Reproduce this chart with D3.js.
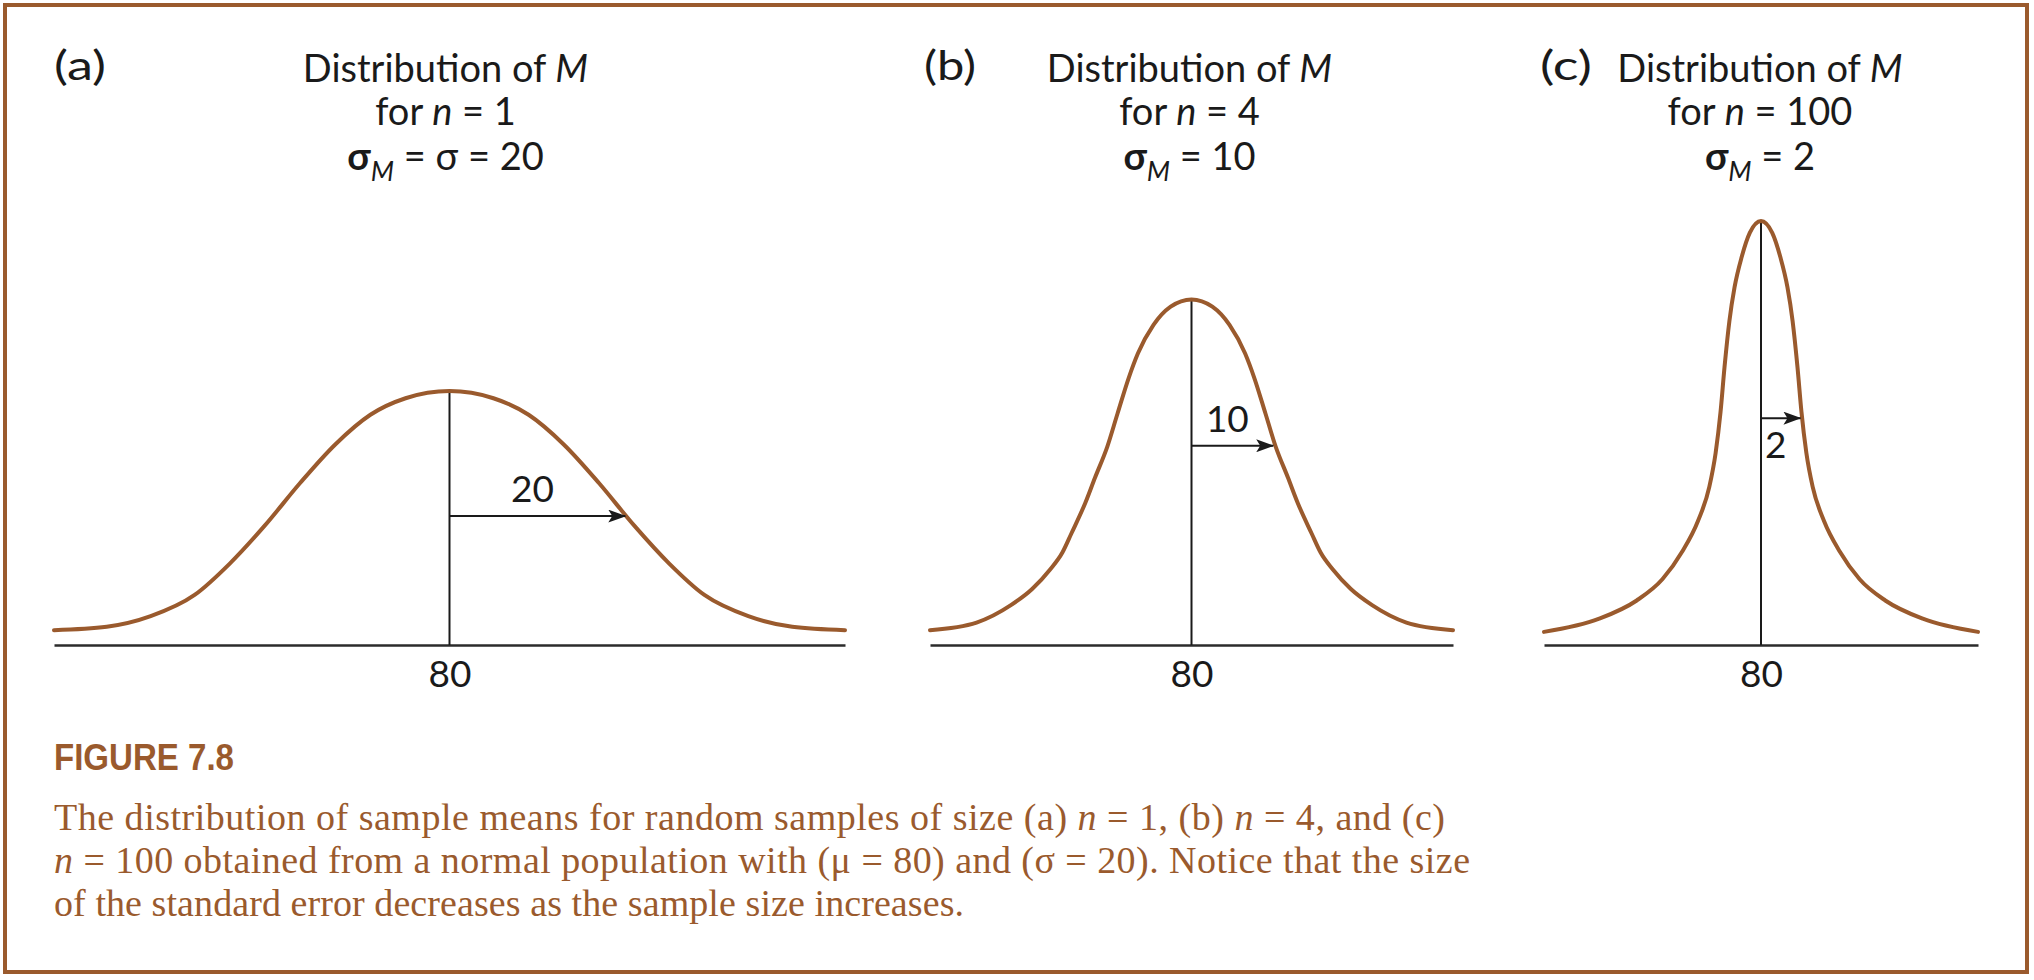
<!DOCTYPE html>
<html lang="en">
<head>
  <meta charset="UTF-8">
  <title>Figure 7.8 - Distribution of sample means</title>
  <script src="https://d3js.org/d3.v7.min.js"></script>
  <style>
    body { margin: 0; background: #fff; overflow: hidden; }
    svg { display: block; }
    .hdr { font-family: Lato, "Noto Sans", sans-serif; fill: #1a1a1a; }
    .num { font-family: Lato, "Noto Sans", sans-serif; fill: #1a1a1a; }
    .cap { font-family: "Liberation Serif", "Times New Roman", serif; fill: #9a5a2d; }
  </style>
</head>
<body>
  <svg id="container"></svg>

  <script>
    // Canvas
    const width = 2034;
    const height = 980;

    // Panel data
    const panelIds = ["(a)", "(b)", "(c)"];
    const sampleSizes = [1, 4, 100];
    const stdErrors = [20, 10, 2];
    const mu = 80;
    const sigmaLine = ["\u03c3 = 20", "", ""]; // extra part of the third title line

    // x domain of each panel (score units)
    const xDomains = [[35, 125], [48, 112], [69, 91]];

    // Curve points (score, relative height)
    const curveAx = [35, 41, 46, 51, 55, 59, 63, 67, 71, 75, 80, 85, 89, 93, 97, 101, 105, 109, 114, 119, 125];
    const curveAh = [3.5, 4.3, 6.8, 11.8, 19.2, 28.2, 38.2, 47.3, 54.3, 58.2, 59.9, 58.2, 54.3, 47.3, 38.2, 28.2, 19.2, 11.8, 6.8, 4.3, 3.5];

    const curveBx = [48, 53.7, 57.9, 60.5, 62.7, 64.2, 65.3, 67, 68.2, 69.7, 70.95, 72.3, 73.45, 75.35, 77.45, 80,
                     82.55, 84.65, 86.55, 87.7, 89.05, 90.3, 91.8, 93, 94.7, 95.8, 97.3, 99.5, 102.1, 106.3, 112];
    const curveBh = [3.5, 5.3, 9.4, 13.2, 17.8, 21.8, 26.3, 33.5, 39.5, 46.8, 54.6, 62.9, 68.8, 75.5, 79.8, 81.5,
                     79.8, 75.5, 68.8, 62.9, 54.6, 46.8, 39.5, 33.5, 26.3, 21.8, 17.8, 13.2, 9.4, 5.3, 3.5];

    const curveCx = [69, 71.8, 73.7, 75, 76, 76.8, 77.38, 77.7, 77.95, 78.15, 78.4, 78.66, 79.02, 79.43, 80,
                     80.57, 80.98, 81.34, 81.6, 81.85, 82.05, 82.3, 82.62, 83.2, 84, 85, 86.3, 88.2, 91];
    const curveCh = [3.1, 6.2, 10.5, 15.5, 22, 29.2, 37.3, 45.3, 55, 65.5, 76.5, 84.4, 91.5, 97.2, 100,
                     97.2, 91.5, 84.4, 76.5, 65.5, 55, 45.3, 37.3, 29.2, 22, 15.5, 10.5, 6.2, 3.1];

    // Height of the standard-error arrow in each panel
    const arrowHeights = [30.4, 47, 53.5];
    const labelSide = ["above", "above", "below"];

    // Caption
    const figureLabel = "FIGURE 7.8";

    // Layout
    const panelRanges = [[54, 845], [930, 1453], [1544, 1978]];
    const idX = [54, 924, 1540];
    const titleShift = [-4, -2, -1];
    const brown = "#9a5a2d";

    const svg = d3.select("#container")
      .attr("width", width)
      .attr("height", height);

    // Arrowhead
    svg.append("defs").append("marker")
      .attr("id", "head")
      .attr("viewBox", "0 0 18 13")
      .attr("refX", 17)
      .attr("refY", 6.5)
      .attr("markerWidth", 18)
      .attr("markerHeight", 13)
      .attr("markerUnits", "userSpaceOnUse")
      .attr("orient", "auto")
      .append("path")
      .attr("d", "M0,0 L18,6.5 L0,13 L4,6.5 Z")
      .attr("fill", "#1a1a1a");

    // Frame
    svg.append("rect")
      .attr("x", 5).attr("y", 5)
      .attr("width", 2022).attr("height", 967)
      .attr("fill", "none")
      .attr("stroke", brown)
      .attr("stroke-width", 4);

    const y = d3.scaleLinear().domain([0, 100]).range([645, 221]);

    const curves = [
      d3.zip(curveAx, curveAh),
      d3.zip(curveBx, curveBh),
      d3.zip(curveCx, curveCh)
    ];

    panelIds.forEach((id, i) => {
      const x = d3.scaleLinear().domain(xDomains[i]).range(panelRanges[i]);
      const g = svg.append("g");
      const cx = x(mu);
      const pts = curves[i];
      const peak = d3.max(pts, d => d[1]);

      // baseline axis with a single tick at the mean
      const axis = d3.axisBottom(x).tickValues([mu]).tickSize(0).tickPadding(16);
      const ax = g.append("g")
        .attr("transform", `translate(0,${y(0)})`)
        .call(axis);
      ax.select(".domain").attr("stroke", "#2b2b2b").attr("stroke-width", 2.5);
      ax.selectAll("text")
        .attr("class", "num")
        .attr("font-size", 37)
        .attr("fill", "#1a1a1a");

      // center line
      g.append("line")
        .attr("x1", cx).attr("x2", cx)
        .attr("y1", y(peak)).attr("y2", y(0))
        .attr("stroke", "#1a1a1a")
        .attr("stroke-width", 2);

      // distribution curve
      g.append("path")
        .datum(pts)
        .attr("fill", "none")
        .attr("stroke", brown)
        .attr("stroke-width", 4)
        .attr("stroke-linecap", "round")
        .attr("d", d3.line()
          .x(d => x(d[0]))
          .y(d => y(d[1]))
          .curve(d3.curveMonotoneX));

      // standard error arrow
      const ay = y(arrowHeights[i]);
      g.append("line")
        .attr("x1", cx).attr("x2", x(mu + stdErrors[i]))
        .attr("y1", ay).attr("y2", ay)
        .attr("stroke", "#1a1a1a")
        .attr("stroke-width", 2)
        .attr("marker-end", "url(#head)");

      g.append("text")
        .attr("class", "num")
        .attr("x", (cx + x(mu + stdErrors[i])) / 2 - 5)
        .attr("y", labelSide[i] === "above" ? ay - 14 : ay + 40)
        .attr("text-anchor", "middle")
        .attr("font-size", 37)
        .text(stdErrors[i]);

      // headings
      g.append("text")
        .attr("class", "hdr")
        .attr("x", idX[i]).attr("y", 80)
        .attr("font-size", 40)
        .attr("textLength", 52)
        .attr("lengthAdjust", "spacingAndGlyphs")
        .text(id);

      const tx = cx + titleShift[i];
      const t1 = g.append("text").attr("class", "hdr")
        .attr("x", tx).attr("y", 82)
        .attr("text-anchor", "middle").attr("font-size", 38);
      t1.append("tspan").text("Distribution of ");
      t1.append("tspan").attr("font-style", "italic").text("M");

      const t2 = g.append("text").attr("class", "hdr")
        .attr("x", tx).attr("y", 125)
        .attr("text-anchor", "middle").attr("font-size", 38);
      t2.append("tspan").text("for ");
      t2.append("tspan").attr("font-style", "italic").text("n");
      t2.append("tspan").text(" = " + sampleSizes[i]);

      const t3 = g.append("text").attr("class", "hdr")
        .attr("x", tx).attr("y", 170)
        .attr("text-anchor", "middle").attr("font-size", 38);
      t3.append("tspan").attr("font-weight", "bold").text("\u03c3");
      t3.append("tspan").attr("font-style", "italic").attr("font-size", 27).attr("dy", 11).text("M");
      const rest = sigmaLine[i] ? " = " + sigmaLine[i] : " = " + stdErrors[i];
      t3.append("tspan").attr("dy", -11).text(rest);
    });

    // Caption
    svg.append("text")
      .attr("x", 54).attr("y", 770)
      .attr("font-family", "'Liberation Sans Narrow', 'Liberation Sans', Arial, sans-serif")
      .attr("font-weight", "bold")
      .attr("font-size", 36)
      .attr("textLength", 180)
      .attr("lengthAdjust", "spacingAndGlyphs")
      .attr("fill", brown)
      .text(figureLabel);

    const capLines = [
      { y: 830, len: 1391, parts: [["The distribution of sample means for random samples of size (a) ", false], ["n", true], [" = 1, (b) ", false], ["n", true], [" = 4, and (c)", false]] },
      { y: 873, len: 1416, parts: [["n", true], [" = 100 obtained from a normal population with (\u03bc = 80) and (\u03c3 = 20). Notice that the size", false]] },
      { y: 916, len: 910, parts: [["of the standard error decreases as the sample size increases.", false]] }
    ];

    capLines.forEach(l => {
      const t = svg.append("text")
        .attr("class", "cap")
        .attr("x", 54).attr("y", l.y)
        .attr("font-size", 38)
        .attr("textLength", l.len)
        .attr("lengthAdjust", "spacing");
      l.parts.forEach(p => {
        t.append("tspan")
          .attr("font-style", p[1] ? "italic" : null)
          .text(p[0]);
      });
    });
  </script>
</body>
</html>
